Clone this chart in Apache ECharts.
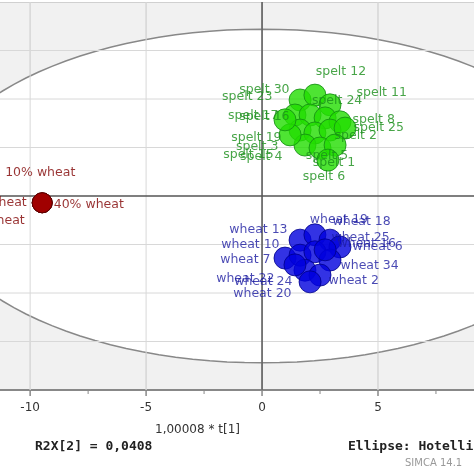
<!DOCTYPE html>
<html><head><meta charset="utf-8">
<script src="https://cdn.jsdelivr.net/npm/echarts@6/dist/echarts.min.js"></script>
<style>html,body{margin:0;padding:0;background:#fff}#c{width:474px;height:474px}</style>
</head><body><div id="c"></div>
<script>
const xTicks = [-10, -5, 0, 5];
const xMinorTicks = [-7.5, -2.5, 2.5, 7.5];
const ellipseAxes = [14.4, 3.44]; // Hotelling T2 semi-axes (t1, t2)
const adulterated = [[-9.48,-0.14],[-9.48,-0.14],[-9.48,-0.14],[-9.48,-0.14]];
const adulteratedNames = ["10% wheat","40% wheat","20% wheat","30% wheat"];
const spelt = [[1.64,1.98],[2.28,2.08],[2.93,1.88],[1.42,1.67],[2.07,1.67],[2.72,1.61],[3.36,1.53],[1.64,1.36],[2.28,1.30],[2.93,1.36],[3.58,1.40],[1.85,1.05],[2.50,0.99],[3.15,1.05],[2.84,0.74],[1.21,1.26],[0.99,1.57]];
const speltNames = ["spelt 30","spelt 12","spelt 11","spelt 23","spelt 16","spelt 24","spelt 8","spelt 19","spelt 3","spelt 2","spelt 25","spelt 4","spelt 1","spelt 5","spelt 6","spelt 15","spelt 17"];
const wheat = [[1.64,-0.91],[2.28,-0.80],[2.93,-0.91],[3.36,-1.05],[0.99,-1.28],[1.64,-1.22],[2.28,-1.15],[2.93,-1.32],[1.85,-1.53],[2.50,-1.63],[2.07,-1.77],[1.42,-1.42],[2.72,-1.11]];
const wheatNames = ["wheat 13","wheat 19","wheat 18","wheat 6","wheat 7","wheat 10","wheat 25","wheat 34","wheat 24","wheat 2","wheat 20","wheat 22","wheat 16"];

const redPos = [{position:'top',offset:[-2,-8]},{position:'right',offset:[-4,2]},{position:'left',offset:[0,0]},{position:'left',offset:[-2,18]}];
const speltPos = [
 {position:'left',offset:[6,-10]},{position:'top',offset:[26,0]},{position:'right',offset:[10,-12]},{position:'left',offset:[-6,-18]},
 {position:'left',offset:[-4,2]},{position:'top',offset:[12,6]},{position:'right',offset:[-4,-2]},{position:'left',offset:[-2,8]},
 {position:'left',offset:[-20,14]},{position:'right',offset:[-12,6]},{position:'right',offset:[-8,0]},{position:'left',offset:[-6,12]},
 {position:'bottom',offset:[14,-8]},{position:'bottom',offset:[-8,-12]},{position:'bottom',offset:[-4,-6]},{position:'left',offset:[0,20]},{position:'left',offset:[10,-4]}];
const wheatPos = [
 {position:'left',offset:[4,-10]},{position:'top',offset:[24,8]},{position:'right',offset:[-14,-18]},{position:'right',offset:[-4,0]},
 {position:'left',offset:[2,2]},{position:'left',offset:[-4,-10]},{position:'right',offset:[0,-14]},{position:'right',offset:[-6,6]},
 {position:'left',offset:[4,12]},{position:'right',offset:[-8,6]},{position:'left',offset:[-2,12]},{position:'left',offset:[-4,14]},{position:'right',offset:[-4,-6]}];

function pts(vals, names, pos, lc){
  return vals.map((v,i)=>({value:v,name:names[i],label:Object.assign({show:true,formatter:names[i],color:lc,fontSize:12.5,fontFamily:'DejaVu Sans'},pos[i])}));
}
const ell = [];
for(let k=0;k<=120;k++){const t=2*Math.PI*k/120; ell.push([ellipseAxes[0]*Math.cos(t), ellipseAxes[1]*Math.sin(t)]);}
const X0=-11.3, X1=9.14, Y0=-4, Y1=4;

const chart = echarts.init(document.getElementById('c'));
chart.setOption({
  animation:false,
  grid:{left:0,right:0,top:2,bottom:84,show:true,backgroundColor:'#f1f1f1',borderWidth:0},
  xAxis:{type:'value',min:X0,max:X1,
    axisLine:{onZero:false,lineStyle:{color:'#888',width:2}},
    axisTick:{show:false},
    axisLabel:{color:'#333',fontSize:12,fontFamily:'DejaVu Sans',margin:12,customValues:xTicks},
    splitLine:{show:false}},
  yAxis:{type:'value',min:Y0,max:Y1,interval:1,axisLine:{show:false},axisTick:{show:false},axisLabel:{show:false},
    splitLine:{show:true,lineStyle:{color:'#d0d0d0'}}},
  graphic:[
    {type:'text',left:155,top:424,style:{text:'1,00008 * t[1]',fontSize:12,fontFamily:'DejaVu Sans',fill:'#333'}},
    {type:'text',left:35,top:440,style:{text:'R2X[2] = 0,0408',fontSize:13,fontWeight:'bold',fontFamily:'DejaVu Sans Mono',fill:'#222'}},
    {type:'text',left:348,top:440,style:{text:"Ellipse: Hotelling's T2 (95%)",fontSize:13,fontWeight:'bold',fontFamily:'DejaVu Sans Mono',fill:'#222'}},
    {type:'text',left:405,top:458,style:{text:'SIMCA 14.1',fontSize:10,fontFamily:'DejaVu Sans',fill:'#999'}}
  ],
  series:[
    {type:'custom',z:1,silent:true,data:[0],renderItem:(p,api)=>{
      const ch=[];
      xTicks.forEach(v=>{const a=api.coord([v,Y0]),b=api.coord([v,Y1]);ch.push({type:'line',shape:{x1:a[0],y1:a[1],x2:b[0],y2:b[1]},style:{stroke:'#d0d0d0',lineWidth:1}});
        ch.push({type:'line',shape:{x1:a[0],y1:a[1],x2:a[0],y2:a[1]+6},style:{stroke:'#888',lineWidth:1.5}});});
      xMinorTicks.forEach(v=>{const a=api.coord([v,Y0]);ch.push({type:'line',shape:{x1:a[0],y1:a[1],x2:a[0],y2:a[1]+4},style:{stroke:'#888',lineWidth:1}});});
      return {type:'group',children:ch};}},
    {type:'custom',z:2,silent:true,data:[0],renderItem:(p,api)=>({type:'polygon',shape:{points:ell.map(q=>api.coord(q))},style:{fill:'#fff',stroke:'#888',lineWidth:1.5}})},
    {type:'custom',z:3,silent:true,data:[0],renderItem:(p,api)=>{
      const ch=[];
      [-3,-2,-1,1,2,3].forEach(v=>{const a=api.coord([X0,v]),b=api.coord([X1,v]);ch.push({type:'line',shape:{x1:a[0],y1:a[1],x2:b[0],y2:b[1]},style:{stroke:'#d8d8d8',lineWidth:1}});});
      xTicks.forEach(v=>{const a=api.coord([v,Y0]),b=api.coord([v,Y1]);ch.push({type:'line',shape:{x1:a[0],y1:a[1],x2:b[0],y2:b[1]},style:{stroke:'#d8d8d8',lineWidth:1}});});
      const a=api.coord([0,Y0]),b=api.coord([0,Y1]),c=api.coord([X0,0]),d=api.coord([X1,0]);
      ch.push({type:'line',shape:{x1:a[0],y1:a[1],x2:b[0],y2:b[1]},style:{stroke:'#555',lineWidth:1.5}});
      ch.push({type:'line',shape:{x1:c[0],y1:c[1],x2:d[0],y2:d[1]},style:{stroke:'#555',lineWidth:1.5}});
      return {type:'group',children:ch};}},
    {type:'scatter',z:5,symbolSize:20,itemStyle:{color:'#a00000',borderColor:'#5a0000',borderWidth:1},data:pts(adulterated,adulteratedNames,redPos,'#800000')},
    {type:'scatter',z:5,symbolSize:22,itemStyle:{color:'#22dd00',borderColor:'#138a13',borderWidth:1},data:pts(spelt,speltNames,speltPos,'#1a8f1a')},
    {type:'scatter',z:5,symbolSize:22,itemStyle:{color:'#0000dd',borderColor:'#000088',borderWidth:1},data:pts(wheat,wheatNames,wheatPos,'#1c1ca0')}
  ]
});
</script></body></html>
